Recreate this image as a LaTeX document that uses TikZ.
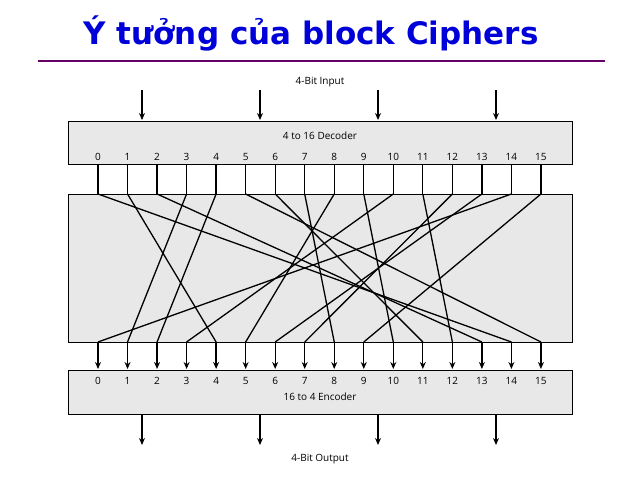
\documentclass[tikz,border=0pt]{standalone}
\usepackage{fontspec}
\usetikzlibrary{arrows.meta}
\setmainfont{Open Sans}
\newfontfamily\titlefont{DejaVu Sans}
\begin{document}
\begin{tikzpicture}[x=1pt,y=-1pt,
  box/.style={draw=black,fill=gray!18,line width=1.2pt},
  wire/.style={line width=1.3pt},
  arr/.style={line width=1.3pt,-{Stealth[length=7pt,width=6pt]}},
  small/.style={font=\fontsize{10}{11}\selectfont,inner sep=0pt}]
\useasboundingbox (0,0) rectangle (638,478);
\node[font=\titlefont\bfseries\fontsize{31}{34}\selectfont,text=blue!85!black] (title) at (311,33) {Ý tưởng của block Ciphers};
\draw[line width=2.5pt,draw=violet!80!black] (38,61) -- (605,61);
% boxes
\node[box,minimum width=504,minimum height=43,inner sep=0,anchor=north west] (dec) at (68,121) {};
\node[box,minimum width=504,minimum height=148,inner sep=0,anchor=north west] (mid) at (68,194) {};
\node[box,minimum width=504,minimum height=44,inner sep=0,anchor=north west] (enc) at (68,370) {};
\node[small] (dl) at (320,136) {4 to 16 Decoder};
\node[small] (el) at (320,397) {16 to 4 Encoder};
\node[small] (in) at (320,82) {4-Bit Input};
\node[small] (out) at (320,459) {4-Bit Output};
\foreach \i in {0,...,15}{
  \pgfmathsetmacro\xx{98+29.53*\i}
  \node[small] (dn\i) at (\xx,157) {\i};
  \node[small] (en\i) at (\xx,381) {\i};
  \coordinate (a\i) at (\xx,164);
  \coordinate (t\i) at (\xx,194);
  \coordinate (b\i) at (\xx,342);
  \coordinate (c\i) at (\xx,369);
  \draw[wire] (a\i) -- (t\i);
  \draw[arr] (b\i) -- (c\i);
}
\foreach \s/\d in {0/14,1/4,2/13,3/1,4/2,5/15,6/11,7/8,8/5,9/10,10/3,11/12,12/7,13/6,14/0,15/9}
  \draw[wire] (t\s) -- (b\d);
\foreach \x/\n in {142/1,260/2,378/3,496/4}{
  \coordinate (ia\n) at (\x,90); \coordinate (ib\n) at (\x,120);
  \draw[arr] (ia\n) -- (ib\n);
  \coordinate (oa\n) at (\x,414); \coordinate (ob\n) at (\x,445);
  \draw[arr] (oa\n) -- (ob\n);
}
\end{tikzpicture}
\end{document}
